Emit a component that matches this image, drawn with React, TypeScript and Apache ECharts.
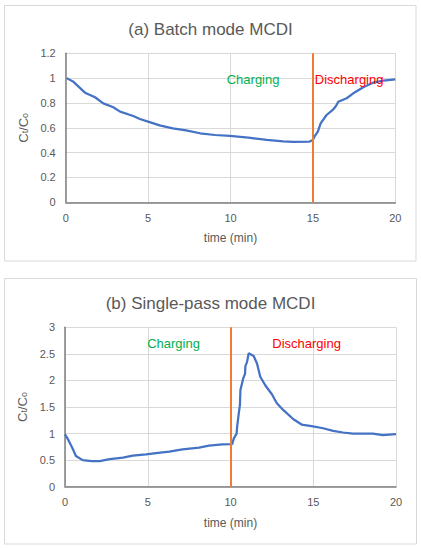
import React, { useEffect, useRef } from "react";
import * as echarts from "echarts";

// (a) Batch mode MCDI
const timeA = [0.06, 0.47, 1.17, 1.78, 2.28, 2.89, 3.3, 4.1, 4.5, 5.0, 5.7, 6.5, 7.3, 8.15, 9.06, 9.97, 11.08, 12.2, 13.2, 13.8, 14.8, 15.0, 15.1, 15.3, 15.47, 15.83, 16.24, 16.4, 16.54, 17.05, 17.45, 18.06, 18.67, 19.27, 20.0];
const ratioA = [1.0, 0.97, 0.883, 0.846, 0.797, 0.765, 0.73, 0.695, 0.671, 0.65, 0.62, 0.596, 0.58, 0.556, 0.542, 0.534, 0.521, 0.502, 0.491, 0.486, 0.489, 0.502, 0.53, 0.57, 0.636, 0.703, 0.749, 0.776, 0.81, 0.838, 0.878, 0.926, 0.964, 0.98, 0.99];

// (b) Single-pass mode MCDI
const timeB = [0, 0.2, 0.46, 0.66, 1.07, 1.6, 2.1, 2.7, 3.5, 4.1, 4.9, 5.5, 6.3, 7.1, 8.1, 8.7, 9.5, 10.1, 10.2, 10.37, 10.4, 10.5, 10.57, 10.6, 10.77, 10.88, 10.9, 11.0, 11.1, 11.4, 11.6, 11.8, 12.1, 12.5, 12.8, 13.2, 13.8, 14.3, 14.9, 15.6, 16.2, 16.8, 17.4, 18.6, 19.2, 20.0];
const ratioB = [0.986, 0.88, 0.72, 0.578, 0.5, 0.483, 0.483, 0.52, 0.546, 0.584, 0.609, 0.634, 0.659, 0.703, 0.734, 0.772, 0.797, 0.8, 0.91, 1.0, 1.13, 1.38, 1.54, 1.82, 2.04, 2.13, 2.27, 2.35, 2.51, 2.46, 2.32, 2.07, 1.91, 1.74, 1.57, 1.44, 1.27, 1.17, 1.14, 1.1, 1.05, 1.02, 1.0, 1.0, 0.97, 0.99];

const titles = ["(a) Batch mode MCDI", "(b) Single-pass mode MCDI"];
const switchTimes = [15, 10];
const yMax = [1.2, 3];
const yStep = [0.2, 0.5];
const xTicks = { min: 0, max: 20, step: 5 };
const phaseLabels = ["Charging", "Discharging"];
// label anchor points in data coordinates [time, ratio] per chart
const chargingPos = [[11.37, 0.985], [6.56, 2.69]];
const dischargingPos = [[17.2, 0.985], [14.6, 2.69]];

const GRAY = "#595959";
const GRID = "#d9d9d9";
const FRAME = "#7f7f7f";
const BLUE = "#4472C4";
const ORANGE = "#ED7D31";
const FONT = "'Liberation Sans', Arial, sans-serif";

export default function App() {
  const ref = useRef<HTMLDivElement>(null);
  useEffect(() => {
    if (!ref.current) return;
    const chart = echarts.init(ref.current, undefined, { renderer: "svg" });
    const grids = [
      { left: 65.7, right: 25.7, top: 53.3, height: 149 },
      { left: 65, right: 25, top: 327.3, height: 159.4 },
    ];
    const times = [timeA, timeB];
    const ratios = [ratioA, ratioB];
    const xAxes: any[] = [];
    const yAxes: any[] = [];
    const series: any[] = [];
    [0, 1].forEach((i) => {
      xAxes.push({
        type: "value",
        gridIndex: i,
        min: xTicks.min,
        max: xTicks.max,
        interval: xTicks.step,
        name: "time (min)",
        nameLocation: "middle",
        nameGap: 30,
        nameTextStyle: { color: GRAY, fontSize: 12, fontFamily: FONT },
        axisLine: { show: true, lineStyle: { color: GRID, width: 1 } },
        axisTick: { show: false },
        axisLabel: { color: GRAY, fontSize: 11, fontFamily: FONT, margin: 10 },
        splitLine: { show: true, lineStyle: { color: GRID, width: 1 } },
      });
      xAxes.push({
        type: "value",
        gridIndex: i,
        position: "top",
        min: xTicks.min,
        max: xTicks.max,
        axisLine: { show: true, lineStyle: { color: FRAME, width: 1.5 } },
        axisTick: { show: false },
        axisLabel: { show: false },
        splitLine: { show: false },
      });
      yAxes.push({
        type: "value",
        gridIndex: i,
        min: 0,
        max: yMax[i],
        interval: yStep[i],
        name: "{m|C}{s|t}{m|/C}{s|o}",
        nameLocation: "middle",
        nameGap: 36,
        nameTextStyle: {
          color: GRAY,
          fontFamily: FONT,
          rich: {
            m: { fontSize: 13, color: GRAY, fontFamily: FONT, verticalAlign: "bottom", lineHeight: 17 },
            s: { fontSize: 9, color: GRAY, fontFamily: FONT, verticalAlign: "bottom", lineHeight: 12 },
          },
        },
        axisLine: { show: false },
        axisTick: { show: false },
        axisLabel: { color: GRAY, fontSize: 11, fontFamily: FONT, margin: 10 },
        splitLine: { show: true, lineStyle: { color: GRID, width: 1 } },
      });
      yAxes.push({
        type: "value",
        gridIndex: i,
        position: "right",
        min: 0,
        max: yMax[i],
        axisLine: { show: true, lineStyle: { color: FRAME, width: 1.5 } },
        axisTick: { show: false },
        axisLabel: { show: false },
        splitLine: { show: false },
      });
      const labelStyle = (color: string) => ({
        show: true,
        position: "inside",
        formatter: "{b}",
        color,
        fontSize: 13,
        fontFamily: FONT,
      });
      series.push({
        type: "line",
        xAxisIndex: i * 2,
        yAxisIndex: i * 2,
        data: times[i].map((t, k) => [t, ratios[i][k]]),
        showSymbol: false,
        symbol: "none",
        lineStyle: { color: BLUE, width: 2.25 },
        itemStyle: { color: BLUE },
        z: 3,
        markLine: {
          silent: true,
          symbol: "none",
          label: { show: false },
          lineStyle: { color: ORANGE, width: 2, type: "solid" },
          data: [{ xAxis: switchTimes[i] }],
          z: 4,
        },
        markPoint: {
          silent: true,
          symbol: "circle",
          symbolSize: 0,
          data: [
            { name: phaseLabels[0], coord: chargingPos[i], label: labelStyle("#00B050") },
            { name: phaseLabels[1], coord: dischargingPos[i], label: labelStyle("#FF0000") },
          ],
        },
      });
    });

    chart.setOption({
      animation: false,
      backgroundColor: "#ffffff",
      title: [
        { text: titles[0], left: "center", top: 16, textStyle: { color: GRAY, fontSize: 17, fontWeight: "normal", fontFamily: FONT } },
        { text: titles[1], left: "center", top: 290, textStyle: { color: GRAY, fontSize: 17, fontWeight: "normal", fontFamily: FONT } },
      ],
      graphic: [
        { type: "rect", shape: { x: 4.5, y: 5.5, width: 411.5, height: 255.5 }, style: { fill: "none", stroke: GRID, lineWidth: 1 }, silent: true },
        { type: "rect", shape: { x: 4.5, y: 278.5, width: 412, height: 265.5 }, style: { fill: "none", stroke: GRID, lineWidth: 1 }, silent: true },
      ],
      grid: grids,
      xAxis: xAxes,
      yAxis: yAxes,
      series,
    });
    return () => chart.dispose();
  }, []);
  return <div ref={ref} style={{ position: "fixed", left: 0, top: 0, width: 421, height: 550 }} />;
}
